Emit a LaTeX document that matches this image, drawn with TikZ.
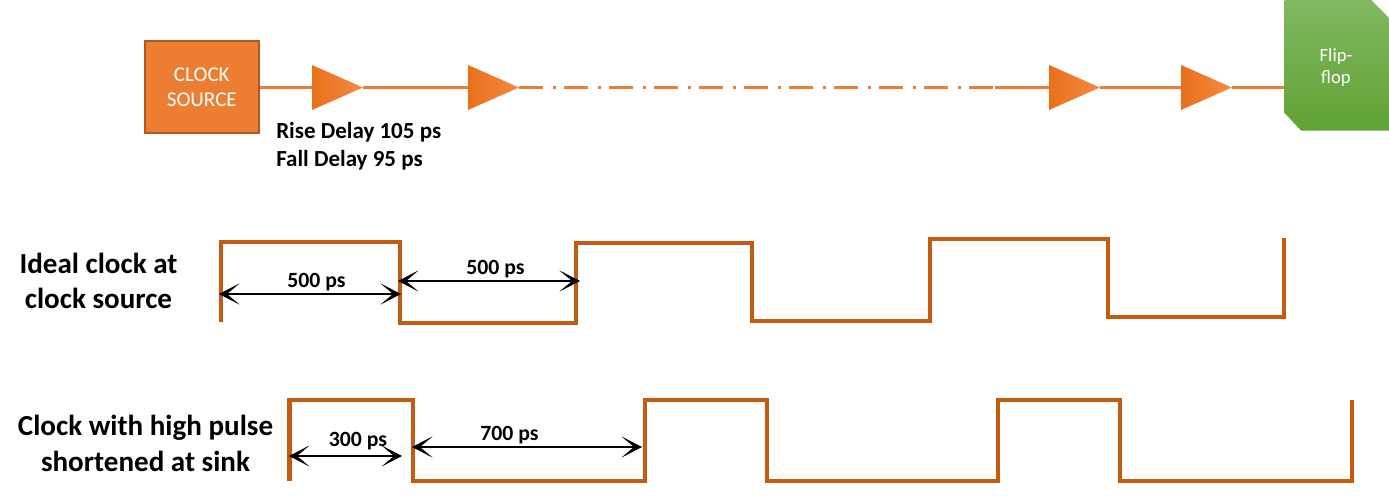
\documentclass[tikz,border=0pt]{standalone}
\usepackage{fontspec}
\setmainfont{Carlito}
\usetikzlibrary{arrows.meta,shapes.geometric}
\definecolor{wave}{HTML}{C55A11}
\definecolor{linec}{HTML}{ED7D31}
\definecolor{boxedge}{HTML}{AE5A21}
\definecolor{buffleft}{HTML}{E9701A}
\definecolor{buffright}{HTML}{F58A45}
\definecolor{ffTop}{HTML}{81B861}
\definecolor{ffBot}{HTML}{60A234}
\tikzset{
  px/.style={x=0.75pt,y=-0.75pt},
  srcbox/.style={draw=boxedge,line width=1.6pt,fill=linec,text=white,inner sep=0pt,align=center,minimum width=85.5pt,minimum height=68.5pt,font=\fontsize{15.8}{18.75}\selectfont},
  buf/.style={isosceles triangle,isosceles triangle stretches,shape border rotate=0,inner sep=0pt,outer sep=0pt,minimum width=33.75pt,minimum height=38.25pt,anchor=lower side,left color=buffleft,right color=buffright,draw=none},
  wire/.style={draw=linec,line width=2.4pt},
  dashwire/.style={wire,dash pattern=on 18pt off 7.5pt on 2.25pt off 6pt},
  wavef/.style={draw=wave,line width=3.7pt,line join=miter},
  dim/.style={draw=black,line width=0.9pt,{Stealth[length=15.5pt,width=16pt,inset=9.5pt]}-{Stealth[length=15.5pt,width=16pt,inset=9.5pt]}},
  head/.style={align=center,inner sep=0pt,font=\bfseries\fontsize{21.8}{26.5}\selectfont},
  note/.style={align=left,inner sep=0pt,anchor=west,font=\bfseries\fontsize{17.25}{21}\selectfont},
  dimlab/.style={inner sep=0pt,font=\bfseries\fontsize{16.3}{19}\selectfont},
}
\begin{document}
\begin{tikzpicture}[px]
\useasboundingbox (0,0) rectangle (1389,496);
% top chain
\node[srcbox] (src) at (201.8,87) {CLOCK\\SOURCE};
\coordinate (ffin) at (1285,87.5);
\coordinate (dashend) at (993,87.5);
\coordinate (solidstart) at (995,87.5);
\node[buf] (b1) at (312,87.5) {};
\node[buf] (b2) at (468,87.5) {};
\node[buf] (b3) at (1049,87.5) {};
\node[buf] (b4) at (1181,87.5) {};
\draw[wire] (src.east |- ffin) -- (b1.lower side);
\draw[wire] (b1.apex) -- (b2.lower side);
\draw[dashwire] (b2.apex) -- (dashend);
\draw[wire] (solidstart) -- (b3.lower side);
\draw[wire] (b3.apex) -- (b4.lower side);
\draw[wire] (b4.apex) -- (ffin);
% flip-flop
\path[top color=ffTop,bottom color=ffBot]
  (1284.5,0) -- (1371,0) -- (1389,18) -- (1389,130.5) -- (1301,130.5) -- (1284.5,113) -- cycle;
\node[text=white,align=center,inner sep=0pt,font=\fontsize{14}{16.5}\selectfont] (ff) at (1336,67.5) {Flip-\\flop};
% delay text
\node[note] (delay) at (276,146) {Rise Delay 105 ps\\Fall Delay 95 ps};
% ideal clock
\node[head] (l1) at (98.5,281) {Ideal clock at\\clock source};
\coordinate (a0) at (221,322);
\coordinate (a1) at (1284,238);
\draw[wavef] (a0) -- (221,242) -- (400,242) -- (400,323) -- (576,323) -- (576,243) -- (752,243) -- (752,321) -- (930,321) -- (930,239) -- (1108,239) -- (1108,317) -- (1284,317) -- (a1);
\coordinate (d1l) at (219,294);
\coordinate (d1r) at (401,294);
\coordinate (d2l) at (398,281);
\coordinate (d2r) at (580,281);
\draw[dim] (d1l) -- (d1r);
\draw[dim] (d2l) -- (d2r);
\node[dimlab] (t1) at (316.5,282) {500 ps};
\node[dimlab] (t2) at (495.5,269) {500 ps};
% sink clock
\node[head] (l2) at (145.5,443.5) {Clock with high pulse\\shortened at sink};
\coordinate (c0) at (289.5,481);
\coordinate (c1) at (1352,400);
\draw[wavef] (c0) -- (289.5,400) -- (413,400) -- (413,481) -- (645,481) -- (645,400) -- (767,400) -- (767,481) -- (998,481) -- (998,400) -- (1120,400) -- (1120,481) -- (1352,481) -- (c1);
\coordinate (d3l) at (289,456);
\coordinate (d3r) at (402,456);
\coordinate (d4l) at (412,447);
\coordinate (d4r) at (642,447);
\draw[dim] (d3l) -- (d3r);
\draw[dim] (d4l) -- (d4r);
\node[dimlab] (t3) at (358,441) {300 ps};
\node[dimlab] (t4) at (509.5,435) {700 ps};
\end{tikzpicture}
\end{document}
